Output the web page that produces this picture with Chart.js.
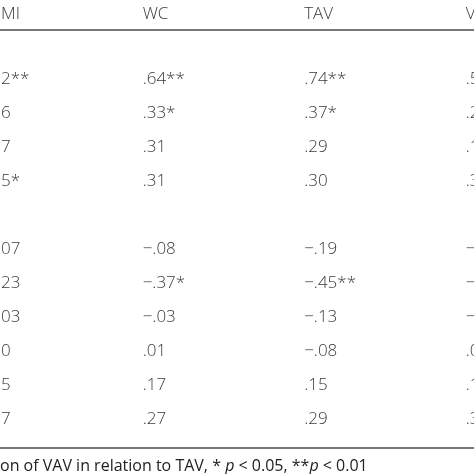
<!DOCTYPE html>
<html>
<head>
<meta charset="utf-8">
<script src="https://cdn.jsdelivr.net/npm/chart.js@4"></script>
<style>
  html, body { margin: 0; padding: 0; background: #fff; }
</style>
</head>
<body>
<canvas id="tabla" width="474" height="474"></canvas>
<script>
// columnas y filas de la tabla (recortada en la imagen)
var columnas = ['BMI', 'WC', 'TAV', 'VAV'];
var filas = [0, 1, 2, 3, 5, 6, 7, 8, 9, 10];

var colBMI = ['.52**', '.26', '.17', '.35*', '\u2212.07', '\u2212.23', '\u2212.03', '.00', '.05', '.17'];
var colWC  = ['.64**', '.33*', '.31', '.31', '\u2212.08', '\u2212.37*', '\u2212.03', '.01', '.17', '.27'];
var colTAV = ['.74**', '.37*', '.29', '.30', '\u2212.19', '\u2212.45**', '\u2212.13', '\u2212.08', '.15', '.29'];
var colVAV = ['.55**', '.25', '.14', '.33', '\u2212.20', '\u2212.40', '\u2212.10', '.02', '.12', '.30'];

var nota = 'Proportion of VAV in relation to TAV, * p < 0.05, **p < 0.01';

var celdas = [colBMI, colWC, colTAV, colVAV];

var datasets = celdas.map(function(col, c) {
    return {
        label: columnas[c],
        data: col.map(function(v, i) { return { x: c, y: filas[i], texto: v }; }),
        pointRadius: 0,
        showLine: false
    };
});
// fila de encabezado
datasets.push({
    label: 'encabezado',
    data: columnas.map(function(n, c) { return { x: c, y: -1.9, texto: n }; }),
    pointRadius: 0,
    showLine: false
});

var fuente = '300 17px "Open Sans"';

// Dibuja los textos de cada celda en la posicion que da la escala
var textoPlugin = {
    id: 'textoCeldas',
    afterDatasetsDraw: function(chart) {
        var ctx = chart.ctx;
        ctx.save();
        ctx.font = fuente;
        ctx.fillStyle = '#3a3a3a';
        ctx.textBaseline = 'middle';
        ctx.textAlign = 'left';
        chart.data.datasets.forEach(function(ds, d) {
            var meta = chart.getDatasetMeta(d);
            meta.data.forEach(function(pt, i) {
                var t = ds.data[i].texto;
                var x = pt.x;
                // la primera columna esta cortada por la izquierda
                if (ds.data[i].x === 0) {
                    var pref = t.charAt(0) === '\u2212' ? '\u2212.' : (d === 4 ? 'B' : t.slice(0, 2));
                    x = 1 - ctx.measureText(pref).width;
                }
                ctx.fillText(t, x, pt.y);
            });
        });

        // lineas horizontales
        var yS = chart.scales.y;
        ctx.strokeStyle = '#777';
        ctx.lineWidth = 2;
        [-1.45, 10.85].forEach(function(v) {
            var y = Math.round(yS.getPixelForValue(v));
            ctx.beginPath();
            ctx.moveTo(0, y);
            ctx.lineTo(chart.width, y);
            ctx.stroke();
        });

        // nota al pie, con la p en cursiva
        var yN = yS.getPixelForValue(11.4);
        var fNota = '16px "Open Sans"';
        var partes = nota.split(/(p)(?= <)/);
        ctx.font = fNota;
        var x = -ctx.measureText('Proporti').width;
        partes.forEach(function(s) {
            ctx.font = (s === 'p' ? 'italic ' : '') + fNota;
            ctx.fillStyle = '#222';
            ctx.fillText(s, x, yN);
            x += ctx.measureText(s).width;
        });
        ctx.restore();
    }
};

var grafica = new Chart(document.getElementById('tabla').getContext('2d'), {
    type: 'scatter',
    data: { datasets: datasets },
    options: {
        responsive: false,
        animation: false,
        layout: { padding: 0 },
        plugins: { legend: { display: false }, tooltip: { enabled: false } },
        scales: {
            x: { type: 'linear', display: false, min: 0.1167, max: 3.0517 },
            y: { type: 'linear', display: false, reverse: true, min: -2.3235, max: 11.618 }
        }
    },
    plugins: [textoPlugin]
});
</script>
</body>
</html>
